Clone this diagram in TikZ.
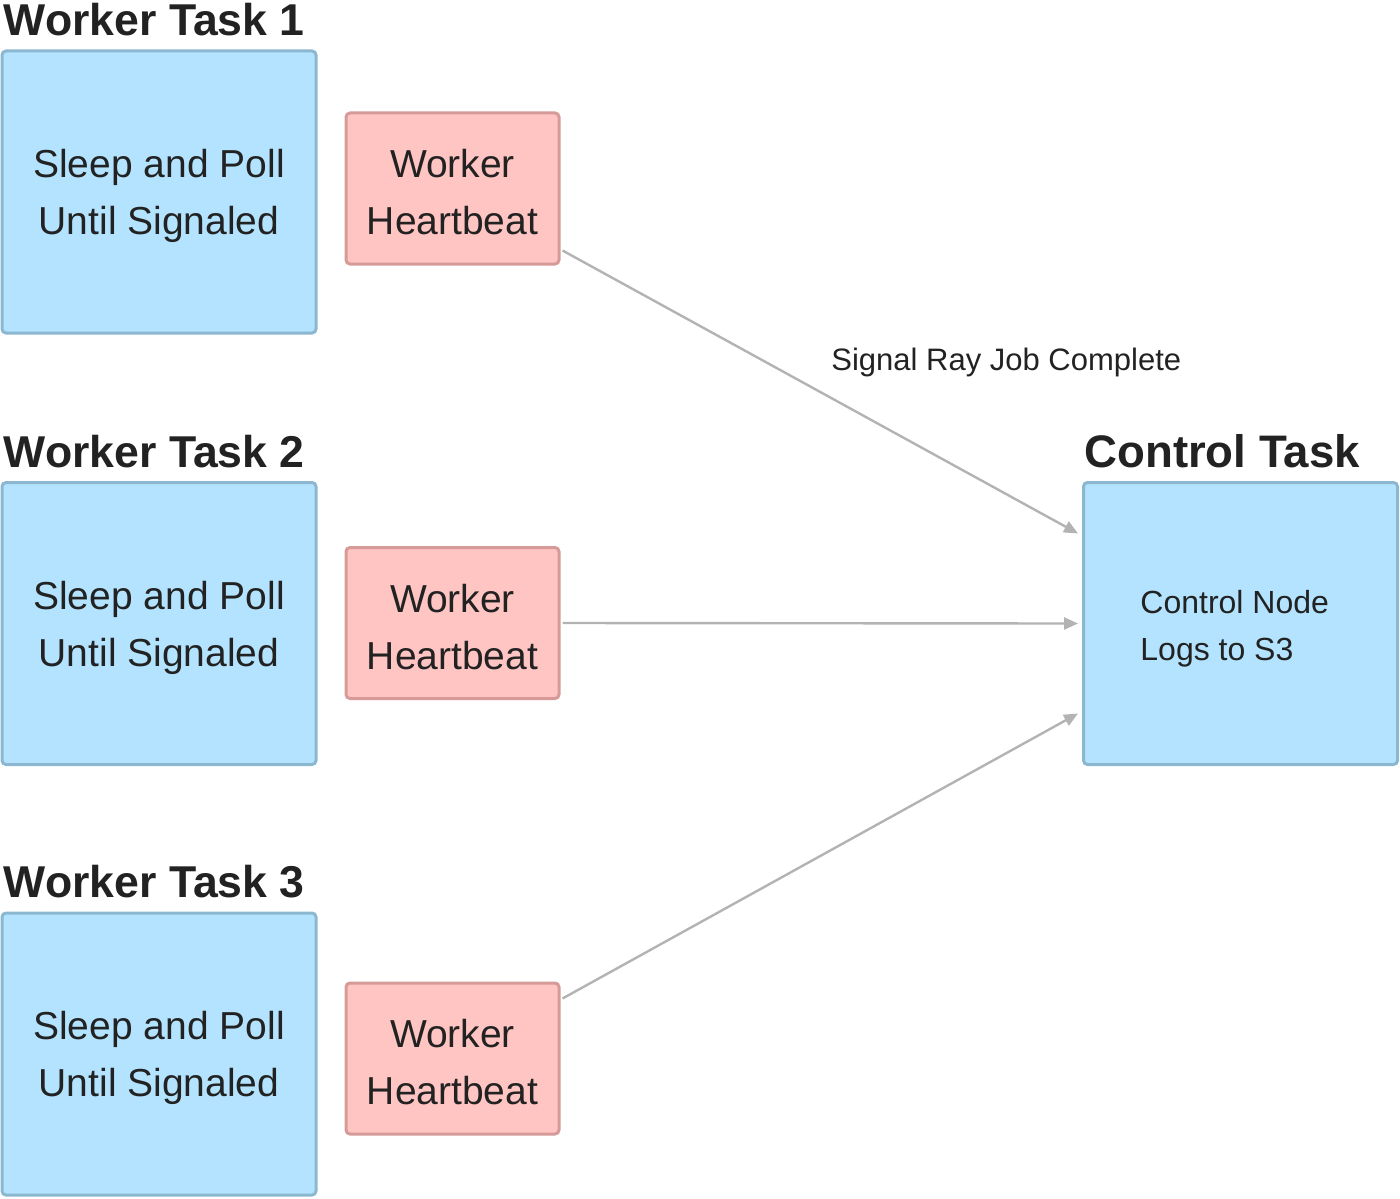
\documentclass[tikz,border=0pt]{standalone}
\usepackage{fontspec}
\setmainfont{Liberation Sans}
\usetikzlibrary{arrows.meta,positioning}
\definecolor{taskfill}{HTML}{B3E3FE}
\definecolor{taskline}{HTML}{8CB7D1}
\definecolor{beatfill}{HTML}{FFC5C3}
\definecolor{beatline}{HTML}{D69B99}
\definecolor{ink}{HTML}{222222}
\definecolor{wire}{HTML}{B3B3B3}
\tikzset{
  task/.style={draw=taskline,fill=taskfill,line width=1.5pt,rounded corners=2pt,
    minimum width=157pt,minimum height=141pt,inner sep=0pt,align=center,
    text=ink,font=\fontsize{19.5}{28.5}\selectfont},
  beat/.style={draw=beatline,fill=beatfill,line width=1.5pt,rounded corners=2pt,
    minimum width=106.5pt,minimum height=75.5pt,inner sep=0pt,align=center,
    text=ink,font=\fontsize{19.5}{28.5}\selectfont},
  words/.style={text=ink,inner sep=0pt,yshift=-2pt},
  title/.style={anchor=base west,inner sep=0pt,text=ink,font=\fontsize{22.3}{26}\selectfont\bfseries},
  signal/.style={wire,line width=1.2pt,-{Triangle[length=7pt,width=6pt]}}
}

\begin{document}
\begin{tikzpicture}[x=0.5pt,y=-0.5pt]
    \useasboundingbox (0,0) rectangle (1400,1198);

    % worker tasks
    \node[task] (w1) at (159,192) {};
    \node[task] (w2) at (159,623.5) {};
    \node[task] (w3) at (159,1054) {};
    \foreach \n in {1,2,3}{
        \node[words,align=center,font=\fontsize{19.5}{28.5}\selectfont] (s\n) at (w\n) {Sleep and Poll\\ Until Signaled};
        \node[title] (t\n) at ([xshift=1.5pt,yshift=7pt]w\n.north west) {Worker Task \n};
    }

    % heartbeats
    \node[beat] (hb1) at (452.5,188.5) {};
    \node[beat] (hb2) at (452.5,623) {};
    \node[beat] (hb3) at (452.5,1058.5) {};
    \foreach \n in {1,2,3}
        \node[words,align=center,font=\fontsize{19.5}{28.5}\selectfont] (h\n) at (hb\n) {Worker\\ Heartbeat};

    % control task
    \node[task] (ctrl) at (1240.5,623.5) {};
    \node[title,font=\fontsize{22.8}{26}\selectfont\bfseries] (tc) at ([xshift=1pt,yshift=7pt]ctrl.north west) {Control Task};
    \node[words,anchor=west,align=left,font=\fontsize{16}{23.5}\selectfont]
        (logs) at (1140,624.5) {Control Node\\ Logs to S3};

    \draw[signal] ([xshift=1pt,yshift=-31pt]hb1.east) -- ([xshift=-2pt,yshift=45pt]ctrl.west);
    \draw[signal] ([xshift=1pt]hb2.east) -- ([xshift=-2pt]ctrl.west);
    \draw[signal] ([xshift=1pt,yshift=30pt]hb3.east) -- ([xshift=-2pt,yshift=-45pt]ctrl.west);
    \node[words,anchor=west,font=\fontsize{15.5}{18}\selectfont]
        (lbl) at (831,358) {Signal Ray Job Complete};
\end{tikzpicture}
\end{document}
